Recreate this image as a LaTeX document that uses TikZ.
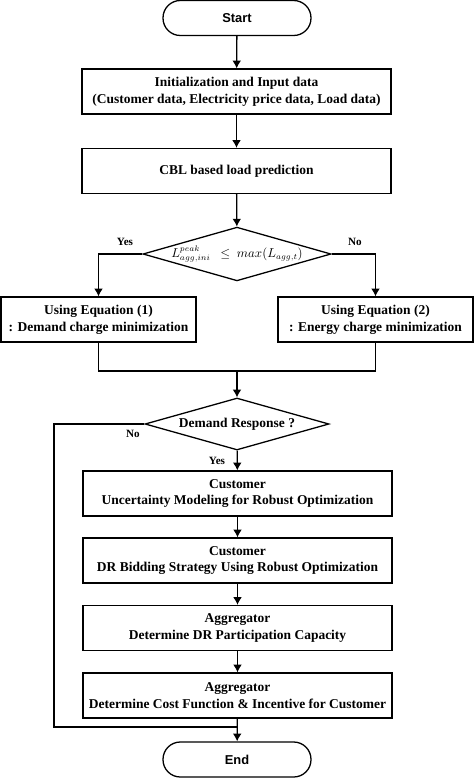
\documentclass[tikz,border=0pt]{standalone}
\usepackage{fontspec}
\setmainfont{Liberation Serif}
\setsansfont{Liberation Sans}
\usetikzlibrary{arrows.meta, shapes.geometric}

\begin{document}
\begin{tikzpicture}[x=0.03cm, y=-0.03cm,
        box/.style  = {draw, line width=1.1pt, minimum width=9.27cm, minimum height=1.35cm, align=center, inner sep=1pt, font=\fontsize{11.5}{14.2}\selectfont\bfseries},
        half/.style = {box, minimum width=5.85cm},
        term/.style = {draw, line width=1.1pt, rounded corners=0.52cm, minimum width=4.44cm, minimum height=1.05cm, font=\fontsize{11}{13}\selectfont\sffamily\bfseries},
        dec/.style  = {draw, line width=1.1pt, diamond, aspect=3.5, inner sep=0pt, minimum width=5.52cm, minimum height=1.56cm, font=\fontsize{11.5}{13}\selectfont\bfseries},
        ar/.style   = {-{Latex[length=2.3mm, width=2.6mm]}, line width=1.1pt},
        ln/.style   = {line width=1.1pt},
        lbl/.style  = {font=\fontsize{9.5}{11}\selectfont\bfseries}
    ]
        \useasboundingbox (0,0) rectangle (474,778);

        \node[term] (start) at (237,18)    {Start};
        \node[box]  (init)  at (236.5,91.5) {Initialization and Input data\\(Customer data, Electricity price data, Load data)};
        \node[box]  (cbl)   at (236.5,171) {CBL based load prediction};
        \node[dec]  (chk)   at (237,254)   {\fontsize{10.5}{12}\selectfont$L^{peak}_{agg,ini}\ \ \le\ max(L_{agg,t})$};
        \node[half] (eqa)   at (98.5,319.5) {Using Equation (1)\\: Demand charge minimization};
        \node[half] (eqb)   at (375.5,319.5) {Using Equation (2)\\: Energy charge minimization};
        \coordinate (mrg)   at (237,371);
        \node[dec]  (dr)    at (237,424)   {Demand Response ?};
        \node[box]  (unc)   at (237.5,493.5) {Customer\\Uncertainty Modeling for Robust Optimization};
        \node[box]  (bid)   at (237.5,560.5) {Customer\\DR Bidding Strategy Using Robust Optimization};
        \node[box]  (cap)   at (237.5,628) {Aggregator\\Determine DR Participation Capacity};
        \node[box]  (cost)  at (237.5,695.5) {Aggregator\\Determine Cost Function \& Incentive for Customer};
        \node[term] (stop)  at (237,759.5) {End};
        \coordinate (lpc)   at (54,727);
        \coordinate (jn)    at (237,727);

        \draw[ar] (start) -- (init);
        \draw[ar] (init)  -- (cbl);
        \draw[ar] (cbl)   -- (chk);
        \draw[ar] (chk.west) -| (eqa);
        \draw[ar] (chk.east) -| (eqb);
        \draw[ln] (eqa) |- (mrg) -| (eqb);
        \draw[ar] (mrg)   -- (dr);
        \draw[ar] (dr)    -- (unc);
        \draw[ar] (unc)   -- (bid);
        \draw[ar] (bid)   -- (cap);
        \draw[ar] (cap)   -- (cost);
        \draw[ar] (cost)  -- (stop);
        \draw[ln] (dr.west) -| (lpc) -- (jn);

        \node[lbl] (ya) at (125,242) {Yes};
        \node[lbl] (na) at (355,242) {No};
        \node[lbl] (nb) at (133,434) {No};
        \node[lbl] (yb) at (217,461) {Yes};
    \end{tikzpicture}
\end{document}
